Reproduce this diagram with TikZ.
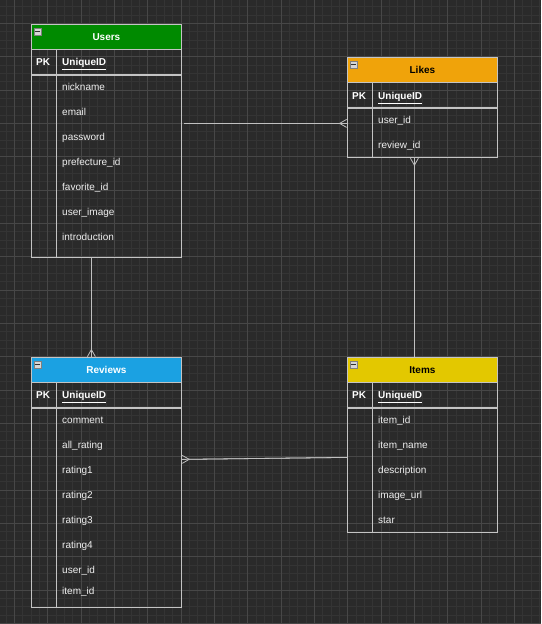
\documentclass[tikz,border=0pt]{standalone}
\usepackage{fontspec}
\setmainfont{Liberation Sans}
\usetikzlibrary{positioning,arrows.meta,backgrounds}
\definecolor{er_bg}{HTML}{2a2a2a}
\definecolor{er_grid_minor}{HTML}{343434}
\definecolor{er_grid_major}{HTML}{474747}
\definecolor{er_border}{HTML}{c4c4c4}
\definecolor{er_line}{HTML}{c0c0c0}
\definecolor{er_text}{HTML}{f0f0f0}
\definecolor{er_toggle}{HTML}{d6d6d6}
\definecolor{er_green}{HTML}{008a00}
\definecolor{er_orange}{HTML}{f0a30a}
\definecolor{er_blue}{HTML}{1ba1e2}
\definecolor{er_yellow}{HTML}{e3c800}
\tikzstyle{line} = [draw=er_line, line width=0.8pt, -{Straight Barb[reversed, length=7pt, width=8pt]}, postaction={draw=er_line, line width=0.8pt, -}]
\tikzstyle{default} = [rectangle, inner sep=0pt, text=er_text, font=\fontsize{10}{12}\selectfont]
\tikzstyle{entity} = [default, draw=er_border, line width=0.8pt, minimum width=150pt, anchor=north west]
\tikzstyle{header} = [entity, minimum height=25pt, font=\fontsize{10}{12}\selectfont\bfseries]
\tikzstyle{users_head} = [header, fill=er_green, text=white]
\tikzstyle{likes_head} = [header, fill=er_orange, text=black]
\tikzstyle{reviews_head} = [header, fill=er_blue, text=white]
\tikzstyle{items_head} = [header, fill=er_yellow, text=black]
\tikzstyle{pk_row} = [entity, minimum height=25pt]
\tikzstyle{field} = [default, anchor=west, text height=9pt, text depth=0pt]
\tikzstyle{field_key} = [field, font=\fontsize{10}{12}\selectfont\bfseries, text=white]
\tikzstyle{divider} = [draw=er_border, line width=0.8pt]
\tikzstyle{toggle} = [rectangle, draw=gray, fill=er_toggle, minimum size=7pt, inner sep=0pt, anchor=north west, path picture={\draw [black!80, line width=1.2pt] ([xshift=1.2pt]path picture bounding box.west) -- ([xshift=-1.2pt]path picture bounding box.east);}]

\begin{document}
\begin{tikzpicture}[x=1pt, y=-1pt]
   \useasboundingbox (0,0) rectangle (541,624);
   \begin{pgfonlayer}{background}
      \fill [er_bg] (0,0) rectangle (541,624);
      \foreach \i in {0,...,64} \draw [er_grid_minor, line width=0.8pt] (5.97+8.333*\i, 0) -- (5.97+8.333*\i, 624);
      \foreach \i in {0,...,74} \draw [er_grid_minor, line width=0.8pt] (0, 6.67+8.333*\i) -- (541, 6.67+8.333*\i);
      \foreach \i in {0,...,15} \draw [er_grid_major, line width=0.8pt] (14.3+33.333*\i, 0) -- (14.3+33.333*\i, 624);
      \foreach \i in {0,...,18} \draw [er_grid_major, line width=0.8pt] (0, 23.3+33.333*\i) -- (541, 23.3+33.333*\i);
   \end{pgfonlayer}

   % Users
   \node at (31, 24) [users_head] (users) {Users};
   \node at (34, 28) [toggle] (users toggle) {};
   \node at (31, 49) [pk_row] (users pk) {};
   \node at (31, 74) [entity, minimum height=183pt] (users fields) {};
   \draw [divider] ([xshift=25pt]users pk.north west) -- ([xshift=25pt]users fields.south west);
   \draw [divider, line width=1.4pt] (users pk.south west) -- (users pk.south east);
   \node at (36, 61) [field_key] (users pk label) {PK};
   \node at (62, 61) [field_key] (users id) {\underline{UniqueID}};
   \node at (62, 86) [field] (users nickname) {nickname};
   \node at (62, 111) [field] (users email) {email};
   \node at (62, 136) [field] (users password) {password};
   \node at (62, 161) [field] (users prefecture) {prefecture\_id};
   \node at (62, 186) [field] (users favorite) {favorite\_id};
   \node at (62, 211) [field] (users image) {user\_image};
   \node at (62, 236) [field] (users intro) {introduction};

   % Likes
   \node at (347, 57) [likes_head] (likes) {Likes};
   \node at (350, 61) [toggle] (likes toggle) {};
   \node at (347, 82) [pk_row] (likes pk) {};
   \node at (347, 107) [entity, minimum height=50pt] (likes fields) {};
   \draw [divider] ([xshift=25pt]likes pk.north west) -- ([xshift=25pt]likes fields.south west);
   \draw [divider, line width=1.4pt] (likes pk.south west) -- (likes pk.south east);
   \node at (352, 95) [field_key] (likes pk label) {PK};
   \node at (378, 95) [field_key] (likes id) {\underline{UniqueID}};
   \node at (378, 119) [field] (likes user) {user\_id};
   \node at (378, 144) [field] (likes review) {review\_id};

   % Reviews
   \node at (31, 357) [reviews_head] (reviews) {Reviews};
   \node at (34, 361) [toggle] (reviews toggle) {};
   \node at (31, 382) [pk_row] (reviews pk) {};
   \node at (31, 407) [entity, minimum height=200pt] (reviews fields) {};
   \draw [divider] ([xshift=25pt]reviews pk.north west) -- ([xshift=25pt]reviews fields.south west);
   \draw [divider, line width=1.4pt] (reviews pk.south west) -- (reviews pk.south east);
   \node at (36, 394) [field_key] (reviews pk label) {PK};
   \node at (62, 394) [field_key] (reviews id) {\underline{UniqueID}};
   \node at (62, 419) [field] (reviews comment) {comment};
   \node at (62, 444) [field] (reviews all) {all\_rating};
   \node at (62, 469) [field] (reviews r1) {rating1};
   \node at (62, 494) [field] (reviews r2) {rating2};
   \node at (62, 519) [field] (reviews r3) {rating3};
   \node at (62, 544) [field] (reviews r4) {rating4};
   \node at (62, 569) [field] (reviews user) {user\_id};
   \node at (62, 590) [field] (reviews item) {item\_id};

   % Items
   \node at (347, 357) [items_head] (items) {Items};
   \node at (350, 361) [toggle] (items toggle) {};
   \node at (347, 382) [pk_row] (items pk) {};
   \node at (347, 407) [entity, minimum height=125pt] (items fields) {};
   \draw [divider] ([xshift=25pt]items pk.north west) -- ([xshift=25pt]items fields.south west);
   \draw [divider, line width=1.4pt] (items pk.south west) -- (items pk.south east);
   \node at (352, 394) [field_key] (items pk label) {PK};
   \node at (378, 394) [field_key] (items id) {\underline{UniqueID}};
   \node at (378, 419) [field] (items item) {item\_id};
   \node at (378, 444) [field] (items name) {item\_name};
   \node at (378, 469) [field] (items desc) {description};
   \node at (378, 494) [field] (items url) {image\_url};
   \node at (378, 519) [field] (items star) {star};

   % Relations
   \path [line] ([xshift=2pt, yshift=42.5pt]users fields.east) -- ([yshift=9pt]likes fields.west);
   \path [line] ([xshift=-8pt]items.north) -- ([xshift=-8pt]likes fields.south);
   \path [line] ([xshift=-15pt]users fields.south) -- ([xshift=-15pt]reviews.north);
   \path [line] ([yshift=12.5pt]items fields.west) -- ([yshift=48pt]reviews fields.east);

\end{tikzpicture}
\end{document}
